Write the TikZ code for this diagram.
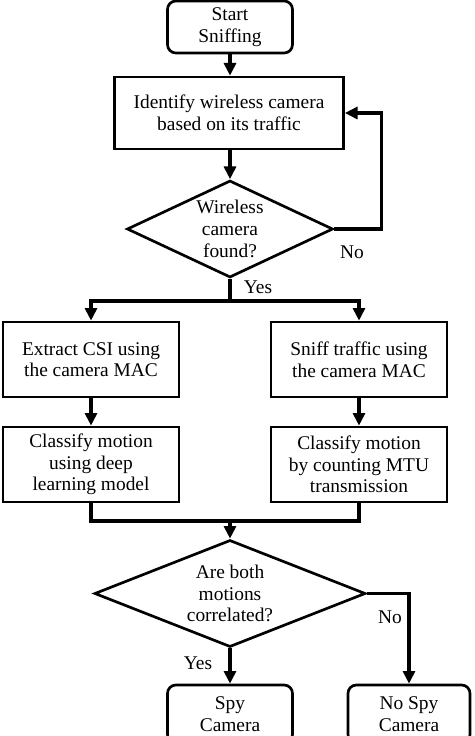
\documentclass[tikz,border=0pt]{standalone}
\usepackage{fontspec}
\setmainfont{Liberation Serif}
\usetikzlibrary{shapes.geometric,arrows.meta}

\begin{document}
\begin{tikzpicture}[
x=0.025cm, y=-0.025cm,
font=\fontsize{13.8}{15.4}\selectfont,
box/.style={
    rectangle,
    draw,
    line width=1.9pt,
    align=center,
    inner sep=2pt
    },
term/.style={
    box,
    rounded corners=6pt,
    minimum width=3.125cm,
    minimum height=1.3cm
    },
decide/.style={
    diamond,
    draw,
    line width=1.9pt,
    align=center,
    inner sep=0pt
    },
arr/.style={
    line width=2.5pt,
    -{Triangle[length=9pt,width=8.5pt]}
    },
ln/.style={
    line width=2.5pt
    },
]
\useasboundingbox (0,0) rectangle (474,736);

\node[term] (start) at (230,27) {Start\\Sniffing};
\node[box, minimum width=5.725cm, minimum height=1.8cm] (ident) at (229,113)
    {Identify wireless camera\\based on its traffic};
\node[decide, aspect=2.12, minimum width=5.15cm, minimum height=2.425cm] (found) at (230,229)
    {Wireless\\camera\\found?};

\node[box, minimum width=4.4cm, minimum height=1.875cm] (csi) at (91,359.5)
    {Extract CSI using\\the camera MAC};
\node[box, minimum width=4.4cm, minimum height=1.875cm] (sniff) at (359,359.5)
    {Sniff traffic using\\the camera MAC};
\node[box, minimum width=4.4cm, minimum height=1.875cm] (deep) at (91,464.5)
    {Classify motion\\using deep\\learning model};
\node[box, minimum width=4.4cm, minimum height=1.875cm] (mtu) at (359,464.5)
    {Classify motion\\by counting MTU\\transmission};

\node[decide, aspect=2.53, minimum width=6.775cm, minimum height=2.675cm] (corr) at (230,593.5)
    {Are both\\motions\\correlated?};
\node[term, minimum height=1.45cm] (spy) at (230,714) {Spy\\Camera};
\node[term, minimum width=3.05cm, minimum height=1.45cm] (nospy) at (409,714) {No Spy\\Camera};

% top part
\draw[arr] (start) -- (start |- ident.north);
\draw[arr] (found |- ident.south) -- (found);
\draw[arr] (found.east) -- ++(47,0) |- (ident.east);
\node (no1) at (352,252) {No};

% split into the two branches
\coordinate (split) at (230,301);
\draw[ln] (found.south) -- (split);
\node (yes1) at (258,287) {Yes};
\draw[arr] (split) -| (csi.north);
\draw[arr] (split) -| (sniff.north);
\draw[arr] (csi) -- (deep);
\draw[arr] (sniff) -- (mtu);

% merge
\coordinate (merge) at (230,521);
\draw[ln] (deep.south) |- (merge) -| (mtu.south);
\draw[arr] (merge) -- (corr.north);

% result
\draw[arr] (corr.south) -- (spy.north);
\node (yes2) at (198,663) {Yes};
\draw[arr] (corr.east) -| (nospy.north);
\node (no2) at (390,617) {No};
\end{tikzpicture}
\end{document}
